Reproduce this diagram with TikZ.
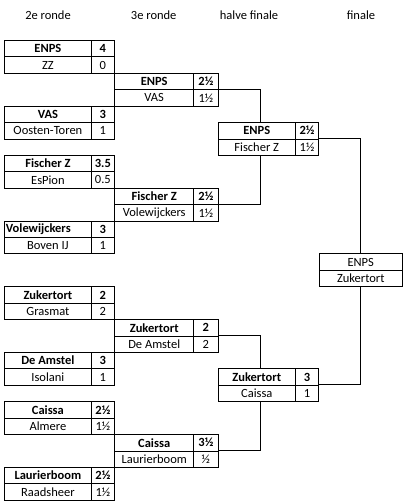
\documentclass[tikz,border=0pt]{standalone}
\usepackage{fontspec}
\setmainfont{Carlito}
\newcommand\cellfont{\fontsize{12.5}{14}\selectfont}
\newcommand\mtch[9]{%
 \pgfmathsetmacro\yt{40+#5*16.42}%
 \pgfmathsetmacro\yb{40+(#5+1)*16.42}%
 \pgfmathsetmacro\wa{#3-#2}%
 \pgfmathsetmacro\wb{#4-#3}%
 \node[cell,win,minimum width=\wa pt] (#1a) at (#2,\yt) {#6};
 \node[cell,win,minimum width=\wb pt] (#1b) at (#3,\yt) {#7};
 \node[cell,minimum width=\wa pt] (#1c) at (#2,\yb) {#8};
 \node[cell,minimum width=\wb pt] (#1d) at (#3,\yb) {#9};
}
\begin{document}
\begin{tikzpicture}[x=1pt,y=-1pt,
  cell/.style={draw, line width=0.8pt, inner sep=0pt, anchor=north west,
    minimum height=16.42pt, font=\cellfont},
  win/.style={font=\cellfont\bfseries},
  hdr/.style={font=\cellfont, inner sep=0pt},
  link/.style={draw, line width=0.8pt}]
\useasboundingbox (0,0) rectangle (409,504);
% headers
\node[hdr] (h1) at (48,15) {2e ronde};
\node[hdr] (h2) at (153.7,15) {3e ronde};
\node[hdr] (h3) at (249,15) {halve finale};
\node[hdr] (h4) at (361,15) {finale};
% 2e ronde
\mtch{a1}{4.3}{90.7}{114.3}{0}{ENPS}{4}{ZZ}{0}
\mtch{a2}{4.3}{90.7}{114.3}{4}{VAS}{3}{Oosten-Toren}{1}
\mtch{a3}{4.3}{90.7}{114.3}{7}{Fischer Z}{3.5}{EsPion}{0.5}
\mtch{a4}{4.3}{90.7}{114.3}{11}{\makebox[84pt][l]{Volewijckers}}{3}{Boven IJ}{1}
\mtch{a5}{4.3}{90.7}{114.3}{15}{Zukertort}{2}{Grasmat}{2}
\mtch{a6}{4.3}{90.7}{114.3}{19}{De Amstel}{3}{Isolani}{1}
\mtch{a7}{4.3}{90.7}{114.3}{22}{Caissa}{2½}{Almere}{1½}
\mtch{a8}{4.3}{90.7}{114.3}{26}{Laurierboom}{2½}{Raadsheer}{1½}
% 3e ronde
\mtch{b1}{114.3}{193.3}{217.7}{2}{ENPS}{2½}{VAS}{1½}
\mtch{b2}{114.3}{193.3}{217.7}{9}{Fischer Z}{2½}{Volewijckers}{1½}
\mtch{b3}{114.3}{193.3}{217.7}{17}{Zukertort}{2}{De Amstel}{2}
\mtch{b4}{114.3}{193.3}{217.7}{24}{Caissa}{3½}{Laurierboom}{½}
% halve finale
\mtch{c1}{217.7}{295}{318.3}{5}{ENPS}{2½}{Fischer Z}{1½}
\mtch{c2}{217.7}{295}{318.3}{20}{Zukertort}{3}{Caissa}{1}
% finale
\pgfmathsetmacro\yf{40+13*16.42}
\pgfmathsetmacro\yg{40+14*16.42}
\node[cell,minimum width=82.7pt] (f1) at (319,\yf) {ENPS};
\node[cell,minimum width=82.7pt] (f2) at (319,\yg) {Zukertort};
% connectors
\path (c1a.north west) ++(42.3,0) coordinate (j1);
\path (c1c.south west) ++(42.3,0) coordinate (j2);
\path (c2a.north west) ++(42.3,0) coordinate (j3);
\path (c2c.south west) ++(42.3,0) coordinate (j4);
\draw[link] (b1d.north east) -| (j1);
\draw[link] (b2d.north east) -| (j2);
\draw[link] (b3d.north east) -| (j3);
\draw[link] (b4d.north east) -| (j4);
\draw[link] (c1d.north east) -| (f1.north);
\draw[link] (c2d.north east) -| (f2.south);
\end{tikzpicture}
\end{document}
